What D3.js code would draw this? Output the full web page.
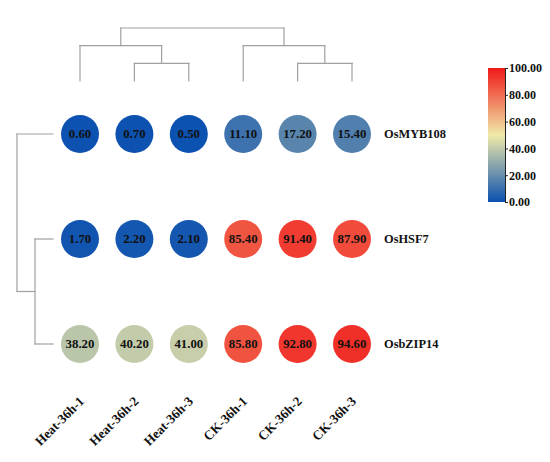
<!DOCTYPE html>
<html><head><meta charset="utf-8">
<script src="https://cdn.jsdelivr.net/npm/d3@7"></script>
<style>body{margin:0;background:#fff}svg{display:block}</style>
</head><body>
<svg id="chart" width="550" height="462"></svg>
<script>
const columns = ["Heat-36h-1","Heat-36h-2","Heat-36h-3","CK-36h-1","CK-36h-2","CK-36h-3"];
const genes = ["OsMYB108","OsHSF7","OsbZIP14"];
const valuesOsMYB108 = [0.60, 0.70, 0.50, 11.10, 17.20, 15.40];
const valuesOsHSF7   = [1.70, 2.20, 2.10, 85.40, 91.40, 87.90];
const valuesOsbZIP14 = [38.20, 40.20, 41.00, 85.80, 92.80, 94.60];
const colorTicks = [0, 20, 40, 60, 80, 100];
const colorStops = [0, 50, 100];
const colorStopColors = ["#0a50b0", "#f0eaa8", "#f01818"];
// dendrogram structures (leaf names)
const colTreeRoot = {children:[
  {children:[{name:"Heat-36h-1"},{children:[{name:"Heat-36h-2"},{name:"Heat-36h-3"}]}]},
  {children:[{name:"CK-36h-1"},{children:[{name:"CK-36h-2"},{name:"CK-36h-3"}]}]}
]};
const rowTreeRoot = {children:[{name:"OsMYB108"},{children:[{name:"OsHSF7"},{name:"OsbZIP14"}]}]};

const rowsData = [valuesOsMYB108, valuesOsHSF7, valuesOsbZIP14];
const svg = d3.select("#chart");
const font = "'Liberation Serif','Times New Roman',serif";

const x = d3.scalePoint().domain(columns).range([80, 352]);
const y = d3.scalePoint().domain(genes).range([134, 344]);
const color = d3.scaleLinear().domain(colorStops).range(colorStopColors).clamp(true);
const r = 19;

// circles
const cells = [];
genes.forEach((g, i) => columns.forEach((c, j) => cells.push({g, c, v: rowsData[i][j]})));
const cg = svg.append("g");
cg.selectAll("circle").data(cells).join("circle")
  .attr("cx", d => x(d.c)).attr("cy", d => y(d.g)).attr("r", r)
  .attr("fill", d => color(d.v));
cg.selectAll("text").data(cells).join("text")
  .attr("x", d => x(d.c)).attr("y", d => y(d.g)).attr("dy", "0.35em")
  .attr("text-anchor", "middle")
  .style("font-family", font).style("font-weight", "bold").style("font-size", "12.8px")
  .attr("fill", "#111")
  .text(d => d.v.toFixed(2));

// row labels
svg.append("g").selectAll("text").data(genes).join("text")
  .attr("x", 384).attr("y", d => y(d)).attr("dy", "0.35em")
  .style("font-family", font).style("font-weight", "bold").style("font-size", "12.4px")
  .attr("fill", "#111").text(d => d);

// column labels
svg.append("g").selectAll("text").data(columns).join("text")
  .attr("transform", d => `translate(${x(d) + 5},${402}) rotate(-45)`)
  .attr("text-anchor", "end")
  .style("font-family", font).style("font-weight", "bold").style("font-size", "13.2px")
  .attr("fill", "#111").text(d => d);

// dendrogram drawing
const lineColor = "#a0a0a0";
function drawTree(rootData, leafPos, hScale, vertical) {
  const root = d3.hierarchy(rootData);
  root.eachAfter(n => {
    n.pos = n.children ? d3.mean(n.children, c => c.pos) : leafPos(n.data.name);
    n.lev = hScale(n.height);
  });
  const segs = [];
  root.each(n => {
    if (!n.children) return;
    const ps = n.children.map(c => c.pos);
    segs.push([d3.min(ps), n.lev, d3.max(ps), n.lev]);
    n.children.forEach(c => segs.push([c.pos, c.lev, c.pos, n.lev]));
  });
  svg.append("g").selectAll("line").data(segs).join("line")
    .attr("x1", s => vertical ? s[0] : s[1]).attr("y1", s => vertical ? s[1] : s[0])
    .attr("x2", s => vertical ? s[2] : s[3]).attr("y2", s => vertical ? s[3] : s[2])
    .attr("stroke", lineColor).attr("stroke-width", 1.2).attr("stroke-linecap", "square");
}
drawTree(colTreeRoot, x, d3.scaleLinear().domain([0, 3]).range([81, 28]), true);
drawTree(rowTreeRoot, y, d3.scaleLinear().domain([0, 2]).range([53, 17]), false);

// color bar
const defs = svg.append("defs");
const grad = defs.append("linearGradient").attr("id", "cbar")
  .attr("x1", 0).attr("y1", 1).attr("x2", 0).attr("y2", 0);
grad.selectAll("stop").data(d3.range(0, 101, 5)).join("stop")
  .attr("offset", d => d / 100).attr("stop-color", d => color(d));
const cbY = d3.scaleLinear().domain([0, 100]).range([202, 68]);
svg.append("rect").attr("x", 488).attr("y", 68).attr("width", 17).attr("height", 134)
  .attr("fill", "url(#cbar)");
const ax = svg.append("g").attr("transform", "translate(505,0)")
  .call(d3.axisRight(cbY).tickValues(colorTicks).tickSize(3).tickPadding(1).tickFormat(d3.format(".2f")));
ax.select(".domain").attr("stroke", "#222");
ax.selectAll(".tick line").attr("stroke", "#222");
ax.selectAll("text").style("font-family", font).style("font-weight", "bold").style("font-size", "12px").attr("fill", "#111");
</script>
</body></html>
